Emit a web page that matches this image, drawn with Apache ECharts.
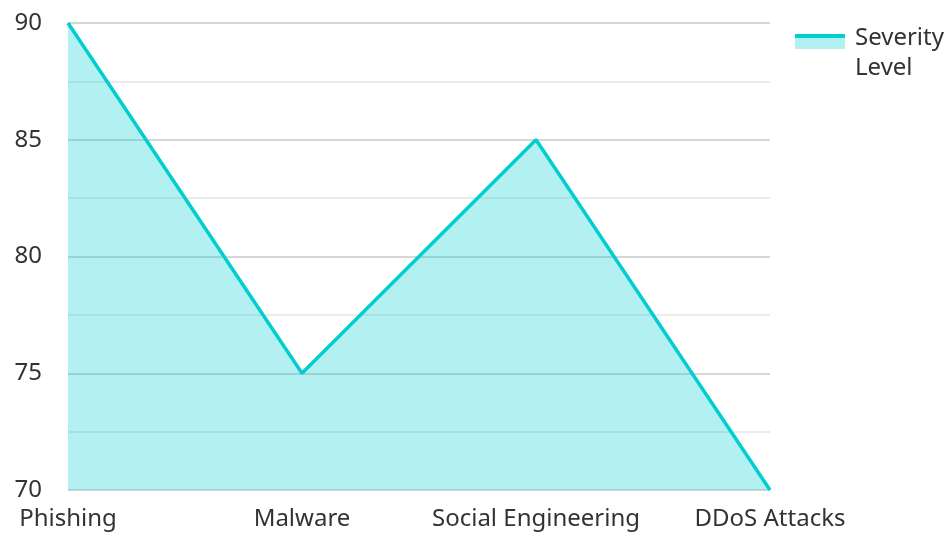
<!DOCTYPE html>
<html><head><meta charset="utf-8">
<script src="https://cdn.jsdelivr.net/npm/echarts@6/dist/echarts.min.js"></script>
<style>html,body{margin:0;padding:0;background:#fff}#c{width:949px;height:533px}</style>
</head><body><div id="c"></div>
<script>
const categories = ['Phishing', 'Malware', 'Social Engineering', 'DDoS Attacks'];
const severity = [90, 75, 85, 70];
const seriesName = 'Severity Level';
const yMin = 70, yMax = 90, yStep = 5;

const chart = echarts.init(document.getElementById('c'));
const font = '"Noto Sans", sans-serif';
chart.setOption({
  animation: false,
  textStyle: { fontFamily: font },
  grid: { left: 68, right: 179, top: 23, bottom: 43, containLabel: false },
  legend: {
    left: 795, top: 23, orient: 'vertical', padding: 0,
    icon: 'rect',
    itemWidth: 50, itemHeight: 38, itemGap: 10,
    itemStyle: {
      color: new echarts.graphic.LinearGradient(0, 0, 0, 1, [
        { offset: 0, color: '#00CED1' },
        { offset: 0.105, color: '#00CED1' },
        { offset: 0.105, color: '#B2F0F1' },
        { offset: 0.39, color: '#B2F0F1' },
        { offset: 0.39, color: 'rgba(255,255,255,0)' },
        { offset: 1, color: 'rgba(255,255,255,0)' }
      ]),
      borderWidth: 0
    },
    textStyle: { fontSize: 24, color: '#333', fontFamily: font, width: 100, overflow: 'break', lineHeight: 30, padding: [0, 0, 0, 5] },
    data: [seriesName]
  },
  xAxis: {
    type: 'category', data: categories, boundaryGap: false,
    axisLine: { show: false }, axisTick: { show: false },
    axisLabel: { fontSize: 24, color: '#333', margin: 17, fontFamily: font, interval: 0 }
  },
  yAxis: {
    type: 'value', min: yMin, max: yMax, interval: yStep,
    axisLine: { show: false }, axisTick: { show: false },
    axisLabel: { fontSize: 24, color: '#333', margin: 26, fontFamily: font },
    splitLine: { lineStyle: { color: '#c8c8c8', width: 1.5 } },
    minorTick: { show: false, splitNumber: 2 },
    minorSplitLine: { show: true, lineStyle: { color: '#e6e6e6', width: 1.5 } }
  },
  series: [{
    name: seriesName, type: 'line', data: severity,
    showSymbol: false, symbol: 'none',
    lineStyle: { color: '#00CED1', width: 3.5 },
    itemStyle: { color: '#00CED1' },
    areaStyle: { color: '#00CED1', opacity: 0.3 }
  }]
});
</script></body></html>
